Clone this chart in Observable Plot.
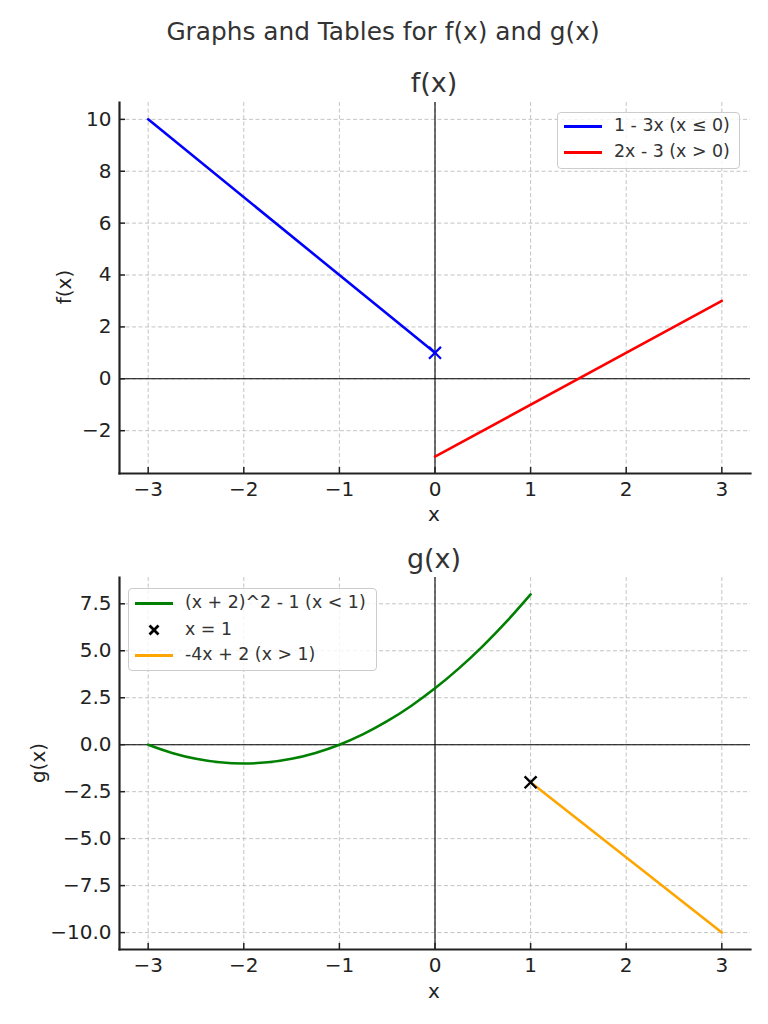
<!DOCTYPE html>
<html><head><meta charset="utf-8">
<script src="https://cdn.jsdelivr.net/npm/d3@7"></script>
<script src="https://cdn.jsdelivr.net/npm/@observablehq/plot@0.6"></script>
<style>
body{margin:0;background:#fff;font-family:"DejaVu Sans",sans-serif;}
#root{position:relative;width:768px;height:1024px;overflow:hidden;background:#fff;}
.abs{position:absolute;white-space:nowrap;color:#333;line-height:1;}
.c{transform:translate(-50%,-50%);}
.legend{position:absolute;background:rgba(255,255,255,0.8);border:1px solid #cccccc;border-radius:4px;box-sizing:border-box;}
.sw{position:absolute;height:3px;width:38px;}
.lt{position:absolute;font-size:17.4px;color:#333;line-height:1;transform:translateY(-50%);white-space:nowrap;}
.plot{position:absolute;left:0;}
</style></head><body><div id="root"></div><script>
// ---- data ----
const mainTitle = "Graphs and Tables for f(x) and g(x)";
const xTicks = [-3, -2, -1, 0, 1, 2, 3];
const fTicks = [-2, 0, 2, 4, 6, 8, 10];
const gTicks = [-10, -7.5, -5, -2.5, 0, 2.5, 5, 7.5];

// f(x) = 1 - 3x (x <= 0)
const fLeftX = [-3, 0];
const fLeftY = [10, 1];
// f(x) = 2x - 3 (x > 0)
const fRightX = [0, 3];
const fRightY = [-3, 3];
// marker at x = 0
const fMarkX = [0];
const fMarkY = [1];

// g(x) = (x+2)^2 - 1 (x < 1)
const gLeftX = [-3, -2.75, -2.5, -2.25, -2, -1.75, -1.5, -1.25, -1, -0.75, -0.5, -0.25, 0, 0.25, 0.5, 0.75, 1];
const gLeftY = [0, -0.4375, -0.75, -0.9375, -1, -0.9375, -0.75, -0.4375, 0, 0.5625, 1.25, 2.0625, 3, 4.0625, 5.25, 6.5625, 8];
// x = 1 marker
const gMarkX = [1];
const gMarkY = [-2];
// g(x) = -4x + 2 (x > 1)
const gRightX = [1, 3];
const gRightY = [-2, -10];

const fLegend = ["1 - 3x (x \u2264 0)", "2x - 3 (x > 0)"];
const gLegend = ["(x + 2)^2 - 1 (x < 1)", "x = 1", "-4x + 2 (x > 1)"];

// ---- helpers ----
const zip = (xs, ys) => xs.map((x, i) => ({x, y: ys[i]}));
const minus = s => s.replace("-", "\u2212");
const fmtInt = d => minus(String(d));
const fmt1 = d => minus(d.toFixed(1));

const root = document.getElementById("root");
function addText(txt, x, y, size, opts = {}) {
  const d = document.createElement("div");
  d.className = "abs c";
  d.textContent = txt;
  d.style.left = x + "px";
  d.style.top = y + "px";
  d.style.fontSize = size + "px";
  if (opts.rotate) d.style.transform = "translate(-50%,-50%) rotate(-90deg)";
  if (opts.color) d.style.color = opts.color;
  root.appendChild(d);
}

const gridStyle = {stroke: "#b0b0b0", strokeOpacity: 0.75, strokeDasharray: "4,2.5", strokeWidth: 1};
function background(yTicksArr) {
  return [
    Plot.gridX(xTicks, gridStyle),
    Plot.gridY(yTicksArr, gridStyle),
    Plot.ruleY([0], {stroke: "black", strokeWidth: 1.1}),
    Plot.ruleX([0], {stroke: "black", strokeWidth: 1.1}),
  ];
}
function axes(yTicksArr, yFmt) {
  return [
    Plot.frame({anchor: "left", stroke: "#222", strokeWidth: 2.2}),
    Plot.frame({anchor: "bottom", stroke: "#222", strokeWidth: 2.2}),
    Plot.axisX(xTicks, {anchor: "bottom", tickSize: 6, dy: -6, stroke: "#222", strokeWidth: 1.5, fill: "none", label: null}),
    Plot.axisX(xTicks, {anchor: "bottom", tickSize: 0, tickPadding: 8, fontSize: 20, tickFormat: fmtInt, fill: "#222", label: null}),
    Plot.axisY(yTicksArr, {anchor: "left", tickSize: 6, dx: 6, stroke: "#222", strokeWidth: 1.5, fill: "none", label: null}),
    Plot.axisY(yTicksArr, {anchor: "left", tickSize: 0, tickPadding: 8, fontSize: 20, tickFormat: yFmt, fill: "#222", label: null}),
  ];
}

const p1 = Plot.plot({
  width: 768, height: 436,
  marginLeft: 119, marginRight: 18, marginTop: 10, marginBottom: 55,
  style: {fontFamily: "DejaVu Sans", background: "transparent", overflow: "visible"},
  x: {domain: [-3.3, 3.3]},
  y: {domain: [-3.65, 10.65]},
  marks: [
    ...background(fTicks),
    Plot.line(zip(fLeftX, fLeftY), {x: "x", y: "y", stroke: "blue", strokeWidth: 2.6}),
    Plot.line(zip(fRightX, fRightY), {x: "x", y: "y", stroke: "red", strokeWidth: 2.6}),
    Plot.dot(zip(fMarkX, fMarkY), {x: "x", y: "y", symbol: "times", r: 5.5, stroke: "blue", strokeWidth: 2.2}),
    ...axes(fTicks, fmtInt)
  ]
});

const p2 = Plot.plot({
  width: 768, height: 437,
  marginLeft: 119, marginRight: 18, marginTop: 10, marginBottom: 55,
  style: {fontFamily: "DejaVu Sans", background: "transparent", overflow: "visible"},
  x: {domain: [-3.3, 3.3]},
  y: {domain: [-10.9, 8.9]},
  marks: [
    ...background(gTicks),
    Plot.line(zip(gLeftX, gLeftY), {x: "x", y: "y", stroke: "green", strokeWidth: 2.6, curve: "catmull-rom"}),
    Plot.line(zip(gRightX, gRightY), {x: "x", y: "y", stroke: "orange", strokeWidth: 2.6}),
    Plot.dot(zip(gMarkX, gMarkY), {x: "x", y: "y", symbol: "times", r: 5.5, stroke: "black", strokeWidth: 2.4}),
    ...axes(gTicks, fmt1)
  ]
});

p1.classList.add("plot"); p1.style.top = "92px";
p2.classList.add("plot"); p2.style.top = "567px";
root.appendChild(p1);
root.appendChild(p2);

// titles and labels
addText(mainTitle, 383, 32, 24.8);
addText("f(x)", 434, 82, 27);
addText("g(x)", 434, 558, 27);
addText("x", 434, 514, 20, {color: "#222"});
addText("x", 434, 991, 20, {color: "#222"});
addText("f(x)", 64, 287, 20, {rotate: true, color: "#222"});
addText("g(x)", 38, 763, 20, {rotate: true, color: "#222"});

// legends
function legend(left, top, w, h, rows) {
  const box = document.createElement("div");
  box.className = "legend";
  Object.assign(box.style, {left: left + "px", top: top + "px", width: w + "px", height: h + "px"});
  rows.forEach(r => {
    if (r.type === "line") {
      const s = document.createElement("div");
      s.className = "sw";
      Object.assign(s.style, {left: "6px", top: (r.y - 1.5) + "px", background: r.color});
      box.appendChild(s);
    } else {
      const s = document.createElementNS("http://www.w3.org/2000/svg", "svg");
      s.setAttribute("width", 14); s.setAttribute("height", 14);
      s.style.position = "absolute"; s.style.left = (25 - 7) + "px"; s.style.top = (r.y - 7) + "px";
      s.innerHTML = `<path d="M2.5,2.5L11.5,11.5M11.5,2.5L2.5,11.5" stroke="${r.color}" stroke-width="2.8" fill="none"/>`;
      box.appendChild(s);
    }
    const t = document.createElement("div");
    t.className = "lt";
    t.textContent = r.label;
    t.style.left = "56px"; t.style.top = r.y + "px";
    box.appendChild(t);
  });
  root.appendChild(box);
}
legend(557, 112, 183, 57, [
  {type: "line", color: "blue", label: fLegend[0], y: 13},
  {type: "line", color: "red", label: fLegend[1], y: 39}
]);
legend(128, 588, 249, 83, [
  {type: "line", color: "green", label: gLegend[0], y: 14},
  {type: "marker", color: "black", label: gLegend[1], y: 41},
  {type: "line", color: "orange", label: gLegend[2], y: 66}
]);
</script></body></html>
